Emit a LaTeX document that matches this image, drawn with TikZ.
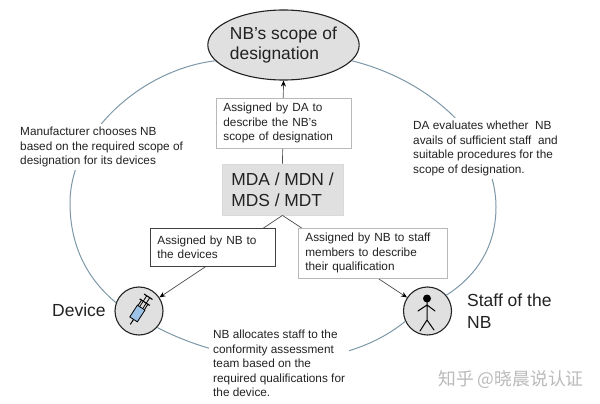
\documentclass[tikz,border=0pt]{standalone}
\usepackage{fontspec}
\setmainfont{Liberation Sans}
\newfontfamily\cjkfont{Noto Sans CJK SC}
\usetikzlibrary{arrows.meta,shapes.geometric}
\definecolor{arcblue}{HTML}{7C97A8}
\definecolor{shade}{HTML}{E0E0E0}
\definecolor{boxgray}{HTML}{B8B8B8}
\definecolor{inkgray}{HTML}{222222}
\definecolor{syringeblue}{HTML}{9CC3E6}
\tikzset{
  smalltext/.style={font=\fontsize{11.8}{14.5}\selectfont,align=left,text=inkgray,anchor=north west,inner sep=0pt},
  bigtext/.style={font=\fontsize{17.4}{20.7}\selectfont,align=left,text=inkgray},
  sidetext/.style={font=\fontsize{17.5}{21.5}\selectfont,align=left,text=inkgray,anchor=west,inner sep=0pt},
  notetext/.style={smalltext,fill=white,inner xsep=4pt,inner ysep=3pt},
  labelbox/.style={smalltext,draw=boxgray,fill=white,line width=.8pt,inner xsep=7pt,inner ysep=0pt},
  bigarc/.style={draw=arcblue,line width=1pt},
  link/.style={draw=black!70,line width=.7pt},
  linkarrow/.style={link,-{Stealth[length=6pt,width=5pt,color=black]}},
  disc/.style={circle,draw=inkgray,fill=shade,line width=1.1pt,minimum size=48pt,inner sep=0pt},
}
\begin{document}
\begin{tikzpicture}[x=1pt,y=-1pt]
\useasboundingbox (0,0) rectangle (600,404);
% main nodes
\node[ellipse,draw=inkgray,fill=shade,line width=1.1pt,minimum width=151pt,minimum height=70pt,inner sep=0pt,bigtext] (scope) at (283.5,45) {NB's scope of\\designation};
\node[disc] (device) at (139,311) {};
\node[disc] (staff) at (427.5,311) {};
% outer arcs
\draw[bigarc] (scope.193) .. controls (140,70) and (70,135) .. (70,203) .. controls (70,243) and (85,277) .. (device.160);
\draw[bigarc] (scope.-13) .. controls (430,80) and (496,140) .. (496,207) .. controls (496,245) and (478,275) .. (staff.40);
\draw[bigarc] (device.-42) .. controls (190,345) and (240,360) .. (283,360) .. controls (325,360) and (370,350) .. (staff.205);
% connectors (pass behind the label boxes)
\node[fill=shade,draw=black!15,line width=.8pt,minimum width=121pt,minimum height=51pt,inner sep=0pt,bigtext] (mda) at (282.5,189.5) {MDA / MDN /\\MDS / MDT};
\draw[linkarrow] (mda.north) -- (scope.south);
\draw[linkarrow] (mda.south) -- (device);
\draw[linkarrow] (mda.south) -- (staff);
% label boxes
\node[labelbox,text width=121pt,minimum height=50pt] (bda) at (216,98) {Assigned by DA to\\describe the NB's\\scope of designation};
\node[labelbox,draw=black!75,text width=111pt,minimum height=38pt] (bdev) at (150,228) {Assigned by NB to\\the devices};
\node[labelbox,text width=135pt,minimum height=50pt] (bstaff) at (298,228) {Assigned by NB to staff\\members to describe\\their qualification};
% notes
\node[notetext] (n1) at (16,124) {Manufacturer chooses NB\\based on the required scope of\\designation for its devices};
\node[notetext] (n2) at (409,118) {DA evaluates whether \ NB\\avails of sufficient staff \ and\\suitable procedures for the\\scope of designation.};
\node[notetext] (n3) at (209,327) {NB allocates staff to the\\conformity assessment\\team based on the\\required qualifications for\\the device.};
\node[sidetext] (ldev) at (52,310) {Device};
\node[sidetext] (lstaff) at (467,311) {Staff of the\\NB};
% syringe
\begin{scope}[shift={(device.center)},rotate=-33]
  \draw[black,line width=.8pt] (-1.8,-17) -- (-1.8,-4) (1.8,-17) -- (1.8,-4);
  \draw[black,line width=.9pt] (-3.8,-11) -- (-3.8,-4) (3.8,-11) -- (3.8,-4);
  \draw[draw=black,fill=syringeblue,line width=.8pt] (-4.5,-4) rectangle (4.5,10);
  \draw[black,line width=1pt] (0,10) -- (0,16);
  \draw[black,line width=1.1pt] (-5,-17) -- (5,-17) (-6,-10.5) -- (6,-10.5);
\end{scope}
% stick figure
\fill[black] (427,298.5) circle (4);
\draw[black,line width=1pt,line cap=round] (427,300) -- (427,320) -- (420,331) (427,320) -- (434,330) (418,311) -- (427,305) -- (435,311);
% watermark
\node[anchor=west,inner sep=0pt,text=black!27,font=\fontsize{17.8}{18}\selectfont\cjkfont] (mark) at (438,380) {知乎 @晓晨说认证};
\end{tikzpicture}
\end{document}
